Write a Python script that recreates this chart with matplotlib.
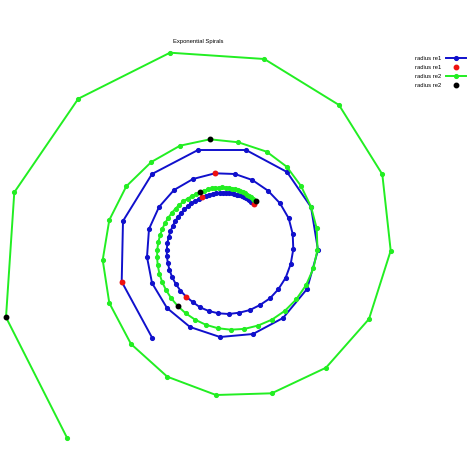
import matplotlib
matplotlib.use("Agg")
import matplotlib.pyplot as plt

# spiral points, offsets from the spiral centre (one unit ~ one pixel)
re1_x = [26.5, 25.1, 23.6, 21.9, 20.2, 18.3, 16.3, 14.2, 11.9, 9.5, 6.9, 4.2, 1.4, -1.5, -4.6, -7.8, -11.1, -14.5, -18.0, -21.5,
         -25.0, -28.7, -32.3, -36.0, -39.5, -43.0, -46.3, -49.5, -52.4, -54.9, -57.1, -58.9, -60.1, -60.7, -60.6, -59.7, -58.0, -55.4, -51.8, -47.1,
         -41.4, -34.8, -27.5, -18.8, -9.2, 1.2, 11.8, 22.5, 32.5, 42.5, 50.8, 58.2, 63.2, 65.8, 65.2, 61.2, 52.5, 40.5, 24.8, 7.5,
         -12.5, -34.5, -53.5, -68.5, -78.5, -80.5, -75.5, -60.5, -37.5, -7.5, 25.5, 55.5, 79.5, 90.5, 83.5, 59.5, 18.5, -29.5, -75.5, -104.5,
         -105.8, -75.5]
re1_y = [45.5, 46.8, 47.9, 49.1, 50.2, 51.3, 52.4, 53.3, 54.2, 55.0, 55.7, 56.3, 56.7, 56.9, 57.0, 56.8, 56.5, 55.8, 54.9, 53.7,
         52.2, 50.5, 48.5, 46.1, 43.3, 40.1, 36.6, 32.6, 28.2, 23.3, 18.1, 12.4, 6.4, 0.0, -6.6, -13.5, -20.5, -27.5, -34.4, -41.0,
         -47.2, -52.5, -57.8, -61.5, -63.8, -64.5, -63.2, -60.5, -55.5, -48.8, -39.8, -28.2, -14.5, 0.2, 15.5, 31.2, 46.2, 58.8, 69.5, 75.5,
         76.2, 70.5, 59.5, 42.5, 20.5, -7.5, -33.5, -58.5, -77.5, -87.5, -84.5, -68.5, -39.5, -0.5, 42.5, 77.5, 99.5, 99.5, 75.5, 28.5,
         -32.2, -88.0]

re2_x = [28.1, 26.6, 25.1, 23.4, 21.6, 19.6, 17.5, 15.3, 12.8, 10.3, 7.5, 4.6, 1.5, -1.7, -5.1, -8.5, -12.2, -15.9, -19.7, -23.5,
         -27.4, -31.5, -35.7, -39.8, -44.0, -48.0, -51.9, -55.7, -59.2, -62.4, -65.2, -67.4, -69.2, -70.2, -70.4, -69.8, -68.1, -65.4, -61.4, -56.2,
         -49.7, -41.8, -32.4, -21.6, -9.7, 3.2, 16.9, 30.7, 44.5, 57.4, 68.9, 78.6, 85.9, 90.0, 89.2, 83.5, 73.5, 59.2, 39.2, 10.8,
         -17.5, -47.5, -76.2, -101.2, -118.2, -124.8, -118.2, -96.5, -60.2, -11.5, 44.2, 98.5, 141.5, 163.2, 154.8, 111.5, 36.8, -57.5, -149.2, -213.2,
         -221.5, -160.2]
re2_y = [48.2, 49.6, 51.0, 52.4, 53.7, 55.0, 56.2, 57.4, 58.5, 59.5, 60.3, 61.0, 61.6, 62.0, 62.1, 62.0, 61.7, 61.1, 60.1, 58.8,
         57.2, 55.5, 53.4, 51.0, 48.1, 44.8, 41.0, 36.6, 31.8, 26.5, 20.6, 14.2, 7.4, 0.0, -7.7, -15.7, -24.0, -32.4, -40.7, -48.9,
         -56.6, -63.8, -70.2, -75.3, -78.7, -80.2, -79.4, -76.0, -70.1, -61.3, -49.7, -35.5, -18.9, 0.0, 21.2, 42.8, 63.5, 82.8, 97.8, 107.2,
         110.2, 103.8, 87.5, 63.2, 29.5, -10.5, -53.5, -94.5, -127.2, -145.5, -143.8, -118.2, -69.5, -1.2, 75.2, 144.5, 190.5, 196.8, 150.8, 57.2,
         -67.8, -188.8]

step = 20  # every 20th point is highlighted

plt.rcParams['font.family'] = ['Liberation Sans', 'DejaVu Sans']

fig = plt.figure(figsize=(4.74, 4.74), dpi=100)
ax = fig.add_axes([0, 0, 1, 1])

ax.plot(re1_x, re1_y, color='#1010cc', linewidth=1.4, marker='o', markersize=2.7, label='radius re1')
ax.plot(re1_x[::step], re1_y[::step], color='#ee1111', linestyle='none', marker='o', markersize=3.2, label='radius re1')
ax.plot(re2_x, re2_y, color='#22ee22', linewidth=1.4, marker='o', markersize=2.7, label='radius re2')
ax.plot(re2_x[::step], re2_y[::step], color='black', linestyle='none', marker='o', markersize=3.2, label='radius re2')

ax.set_xlim(-227.5, 246.5)
ax.set_ylim(-224.5, 249.5)
ax.set_aspect('equal')
ax.axis('off')

fig.text(198 / 474, 1 - 41 / 474, 'Exponential Spirals', ha='center', va='center', fontsize=4.2)

ax.legend(loc='upper left', bbox_to_anchor=(415 / 474, 1 - 55.5 / 474), bbox_transform=fig.transFigure,
          frameon=False, fontsize=4.2, markerfirst=False, handlelength=3.4, labelspacing=0.68,
          borderpad=0, borderaxespad=0, handletextpad=0.8)

fig.savefig('out.png', dpi=100)
